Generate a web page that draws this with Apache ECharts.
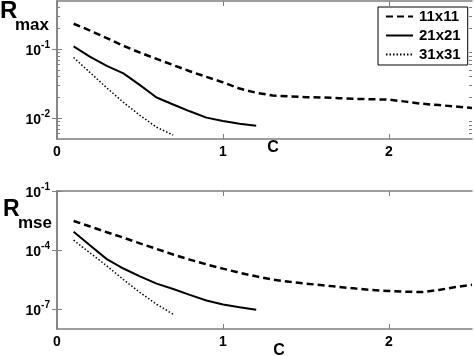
<!DOCTYPE html>
<html><head><meta charset="utf-8">
<script src="https://cdn.jsdelivr.net/npm/echarts@6/dist/echarts.min.js"></script>
<style>html,body{margin:0;padding:0;background:#fff}#c{width:474px;height:356px}</style>
</head><body><div id="c"></div>
<script>
// ---- data ----
const c11 = [0.1,0.2,0.3,0.4,0.5,0.6,0.7,0.8,0.9,1.0,1.1,1.2,1.3,1.4,1.5,1.6,1.7,1.8,1.9,2.0,2.1,2.2,2.3,2.4,2.5];
const c21 = [0.1,0.2,0.3,0.4,0.5,0.6,0.7,0.8,0.9,1.0,1.1,1.2];
const c31 = [0.1,0.2,0.3,0.4,0.5,0.6,0.7];
const rmax11 = [0.234,0.186,0.145,0.112,0.0891,0.0724,0.0589,0.0479,0.0398,0.0331,0.0269,0.0234,0.0214,0.0207,0.0202,0.0200,0.0195,0.0191,0.0188,0.0186,0.0174,0.0162,0.0155,0.0148,0.0141];
const rmax21 = [0.110,0.0776,0.0575,0.0447,0.0302,0.0200,0.0158,0.0126,0.0102,0.0091,0.0083,0.0078];
const rmax31 = [0.0759,0.0457,0.0275,0.0170,0.0110,0.0074,0.0057];
const rmse11 = [3.02e-3,1.58e-3,8.1e-4,4.3e-4,2.2e-4,1.15e-4,6.0e-5,3.3e-5,1.9e-5,1.15e-5,7.1e-6,4.7e-6,3.2e-6,2.5e-6,2.0e-6,1.66e-6,1.35e-6,1.12e-6,9.5e-7,8.5e-7,7.8e-7,7.5e-7,9.5e-7,1.35e-6,1.74e-6];
const rmse21 = [8.5e-4,1.7e-4,3.5e-5,1.17e-5,4.7e-6,2.0e-6,1.07e-6,5.4e-7,2.8e-7,1.74e-7,1.26e-7,9.5e-8];
const rmse31 = [3.2e-4,7.1e-5,1.6e-5,3.2e-6,7.1e-7,1.8e-7,5.6e-8];
const names = ['11x11','21x21','31x31'];
const xTicks = [0,1,2];
const yTicksTop = [0.01,0.1];
const yMinorTop = [0.006,0.007,0.008,0.009,0.02,0.03,0.04,0.05,0.06,0.07,0.08,0.09,0.2,0.3,0.4];
const yTicksBot = [1e-7,1e-4,1e-1];

const FF = '"Liberation Sans", Arial, Helvetica, sans-serif';
const GRAY = '#7f7f7f';
const pair = (xs, ys) => xs.map((x, i) => [x, ys[i]]);

function xAx(grid, pos, labels) {
  return {
    type: 'value', gridIndex: grid, position: pos, min: 0, max: 2.5,
    axisLine: {show: true, lineStyle: {color: GRAY, width: 1.5}},
    axisTick: {show: true, inside: true, length: 5, customValues: xTicks, lineStyle: {color: GRAY}},
    axisLabel: {show: labels, customValues: xTicks, margin: 6, color: '#000', fontFamily: FF, fontWeight: 'bold', fontSize: 14},
    splitLine: {show: false}
  };
}
function yAx(grid, pos, min, max, ticks, labels, len, showLine) {
  return {
    type: 'log', logBase: 10, gridIndex: grid, position: pos, min: min, max: max,
    axisLine: {show: showLine, lineStyle: {color: GRAY, width: 1.5}},
    axisTick: {show: true, inside: true, length: len, customValues: ticks, lineStyle: {color: GRAY}},
    axisLabel: {
      show: labels, customValues: ticks, margin: 7,
      formatter: v => '{b|10}{s|' + Math.round(Math.log10(v)) + '}',
      rich: {
        b: {fontFamily: FF, fontWeight: 'bold', fontSize: 14, color: '#000', lineHeight: 18, verticalAlign: 'bottom'},
        s: {fontFamily: FF, fontWeight: 'bold', fontSize: 10, color: '#000', lineHeight: 18, verticalAlign: 'top'}
      }
    },
    splitLine: {show: false}, minorTick: {show: false}
  };
}

const styles = [
  {color: '#000', width: 2.5, type: [7, 4]},
  {color: '#000', width: 2, type: 'solid'},
  {color: '#000', width: 1.5, type: [1.5, 2]}
];
function ser(name, data, xi, yi, st) {
  return {name: name, type: 'line', xAxisIndex: xi, yAxisIndex: yi, data: data,
    symbol: 'none', showSymbol: false, lineStyle: st, itemStyle: {color: '#000'}, silent: true, z: 3};
}
function txt(t, x, y, size, align) {
  return {type: 'text', style: {text: t, x: x, y: y, fontFamily: FF, fontWeight: 'bold', fontSize: size, fill: '#000', align: align || 'left', verticalAlign: 'middle'}};
}

const chart = echarts.init(document.getElementById('c'), null, {renderer: 'canvas'});
chart.setOption({
  animation: false,
  backgroundColor: '#fff',
  grid: [
    {left: 57, right: 2, top: 1, height: 138},
    {left: 57, right: 2, top: 191, height: 138}
  ],
  xAxis: [xAx(0, 'bottom', true), xAx(0, 'top', false), xAx(1, 'bottom', true), xAx(1, 'top', false)],
  yAxis: [
    yAx(0, 'left', 0.005, 0.5, yTicksTop, true, 5, true),
    yAx(0, 'right', 0.005, 0.5, yTicksTop, false, 5, true),
    yAx(0, 'left', 0.005, 0.5, yMinorTop, false, 3, false),
    yAx(0, 'right', 0.005, 0.5, yMinorTop, false, 3, false),
    yAx(1, 'left', 1e-8, 1e-1, yTicksBot, true, 5, true),
    yAx(1, 'right', 1e-8, 1e-1, yTicksBot, false, 5, true)
  ],
  legend: {
    left: 378, top: 7, orient: 'vertical', data: names,
    itemWidth: 27, itemHeight: 14, itemGap: 4, padding: [2, 7, 3, 7],
    borderColor: '#000', borderWidth: 1, backgroundColor: '#fff',
    itemStyle: {opacity: 0},
    textStyle: {fontFamily: FF, fontWeight: 'bold', fontSize: 15, color: '#000', padding: [0, 0, 0, 1]},
    selectedMode: false
  },
  graphic: [
    txt('R', 0, 11, 24),
    txt('max', 15, 25.5, 17),
    txt('R', 3, 210, 23),
    txt('mse', 18, 223.5, 17),
    txt('C', 273, 148, 16, 'center'),
    txt('C', 279, 351, 16, 'center')
  ],
  series: [
    ser(names[0], pair(c11, rmax11), 0, 0, styles[0]),
    ser(names[1], pair(c21, rmax21), 0, 0, styles[1]),
    ser(names[2], pair(c31, rmax31), 0, 0, styles[2]),
    ser(names[0], pair(c11, rmse11), 2, 4, styles[0]),
    ser(names[1], pair(c21, rmse21), 2, 4, styles[1]),
    ser(names[2], pair(c31, rmse31), 2, 4, styles[2])
  ]
});
</script></body></html>
